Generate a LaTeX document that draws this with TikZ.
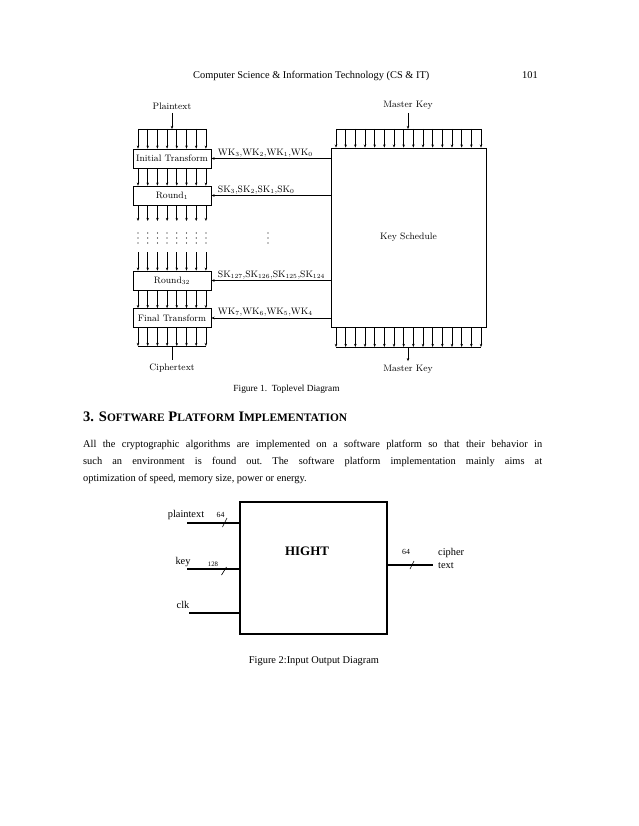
\documentclass[tikz,border=0pt]{standalone}
\usepackage{fontspec}
\newfontfamily\tnr{Liberation Serif}
\usetikzlibrary{arrows.meta,positioning}
\newcommand{\hsc}[1]{{\fontsize{11}{13}\selectfont #1}}
\tikzset{
  blk/.style={draw,line width=0.7pt,minimum width=26.4mm,minimum height=6.4mm,inner sep=1pt,font=\small},
  arr/.style={line width=0.6pt,-{Stealth[length=3pt,width=2.4pt]}},
  ln/.style={line width=0.6pt},
  keylbl/.style={font=\small,anchor=south west,inner sep=1pt,xshift=5pt},
  io/.style={line width=1.3pt},
  iolbl/.style={font=\tnr\fontsize{10}{12.5}\selectfont,inner sep=0pt},
  bitw/.style={font=\tnr\fontsize{7.5}{9}\selectfont,inner sep=0pt},
  ptxt/.style={font=\tnr\fontsize{10}{12}\selectfont,inner sep=0pt},
}
\begin{document}
\begin{tikzpicture}[x=0.3384mm,y=-0.3384mm]
\useasboundingbox (0,0) rectangle (638,826);
% running head
\node[ptxt,anchor=base west] (hdr) at (193,79) {Computer Science \& Information Technology (CS \& IT)};
\node[ptxt,anchor=base east] (pgno) at (538,79) {101};

% figure 1: toplevel
\node[blk] (init) at (172,158.5) {Initial Transform};
\node[blk] (rnd1) at (172,195.5) {Round$_1$};
\node[blk] (rnd32) at (172,280.5) {Round$_{32}$};
\node[blk] (fin) at (172,318) {Final Transform};
\node[draw,line width=0.7pt,minimum width=52.4mm,minimum height=60.6mm,font=\small] (ks) at (408.5,237.5) {Key Schedule};

\node[font=\small] (pt) at (172,106) {Plaintext};
\node[font=\small] (ct) at (172,368) {Ciphertext};
\node[font=\small] (mk1) at (408,105) {Master Key};
\node[font=\small] (mk2) at (408,369) {Master Key};

\coordinate (ptbus) at (172,129);
\coordinate (ctbus) at (172,346);
\coordinate (mkbus1) at (408,129);
\coordinate (mkbus2) at (408,347);

\draw[ln] (138,129) -- (206,129);
\draw[ln] (138,346) -- (206,346);
\draw[ln] (336,129) -- (481,129);
\draw[ln] (336,347) -- (481,347);
\draw[arr] (pt) -- (ptbus);
\draw[ln] (ctbus) -- (ct);
\draw[arr] (mk1) -- (mkbus1);
\draw[arr] (mkbus2) -- (mk2);

\foreach \i in {0,...,7} {
  \pgfmathsetmacro\cx{138+9.7*\i}
  \draw[arr] (\cx,129) -- (\cx,0 |- init.north);
  \draw[arr] (\cx,0 |- init.south) -- (\cx,0 |- rnd1.north);
  \draw[arr] (\cx,0 |- rnd1.south) -- (\cx,221);
  \foreach \y in {233,238,243} \fill (\cx,\y) circle (0.6pt);
  \draw[arr] (\cx,252) -- (\cx,0 |- rnd32.north);
  \draw[arr] (\cx,0 |- rnd32.south) -- (\cx,0 |- fin.north);
  \draw[arr] (\cx,0 |- fin.south) -- (\cx,346);
}
\foreach \y in {233,238,243} \fill (268,\y) circle (0.6pt);

\foreach \j in {0,...,15} {
  \pgfmathsetmacro\kx{336+9.667*\j}
  \draw[arr] (\kx,129) -- (\kx,0 |- ks.north);
  \draw[arr] (\kx,0 |- ks.south) -- (\kx,347);
}

\draw[arr] (ks.west |- init) -- node[keylbl,at end] {WK$_3$,WK$_2$,WK$_1$,WK$_0$} (init);
\draw[arr] (ks.west |- rnd1) -- node[keylbl,at end] {SK$_3$,SK$_2$,SK$_1$,SK$_0$} (rnd1);
\draw[arr] (ks.west |- rnd32) -- node[keylbl,at end] {SK$_{127}$,SK$_{126}$,SK$_{125}$,SK$_{124}$} (rnd32);
\draw[arr] (ks.west |- fin) -- node[keylbl,at end] {WK$_7$,WK$_6$,WK$_5$,WK$_4$} (fin);

\node[font=\tnr\fontsize{9}{11}\selectfont,anchor=base,inner sep=0pt] (cap1) at (286.5,391) {Figure 1.\ \ Toplevel Diagram};

% section text
\node[anchor=base west,inner sep=0pt,font=\tnr\bfseries\fontsize{14}{16}\selectfont] (sec) at (83,421)
  {3. S\hsc{OFTWARE} P\hsc{LATFORM} I\hsc{MPLEMENTATION}};
\node[anchor=north west,inner sep=0pt,text width=155.3mm,align=justify,font=\tnr\fontsize{10}{16.3}\selectfont\frenchspacing] (para) at (83,440)
  {All the cryptographic algorithms are implemented on a software platform so that their behavior in\linebreak
   such an environment is found out. The software platform implementation mainly aims at\linebreak
   optimization of speed, memory size, power or energy.};

% figure 2: input output
\node[draw,io,minimum width=49.7mm,minimum height=44.7mm] (hight) at (313.5,568) {};
\node[font=\tnr\bfseries\fontsize{12.5}{14}\selectfont,inner sep=0pt] (hname) at (307,551) {HIGHT};

\coordinate (pin) at (187,523);
\coordinate (kin) at (187,569);
\coordinate (cin) at (189,613);
\coordinate (cout) at (433,565);
\draw[io] (pin) -- (pin -| hight.west);
\draw[io] (kin) -- (kin -| hight.west);
\draw[io] (cin) -- (cin -| hight.west);
\draw[io] (hight.east |- cout) -- (cout);

\node[iolbl] (plbl) at (186,515) {plaintext};
\node[iolbl] (klbl) at (183,562) {key};
\node[iolbl] (clbl) at (183,605) {clk};
\node[bitw] (pw) at (220.5,515) {64};
\node[bitw,font=\tnr\fontsize{6.5}{8}\selectfont] (kw) at (213,564) {128};
\node[bitw] (cw) at (406,552) {64};
\node[iolbl,align=left,anchor=west] (olbl) at (438,558.5) {cipher\\text};
\draw[line width=0.6pt] (222.5,527) -- (227,518);
\draw[line width=0.6pt] (221.5,575) -- (226.5,567);
\draw[line width=0.6pt] (410,569) -- (414,561);

\node[font=\tnr\fontsize{10}{12}\selectfont,anchor=base,inner sep=0pt] (cap2) at (314,663) {Figure 2:Input Output Diagram};
\end{tikzpicture}
\end{document}
